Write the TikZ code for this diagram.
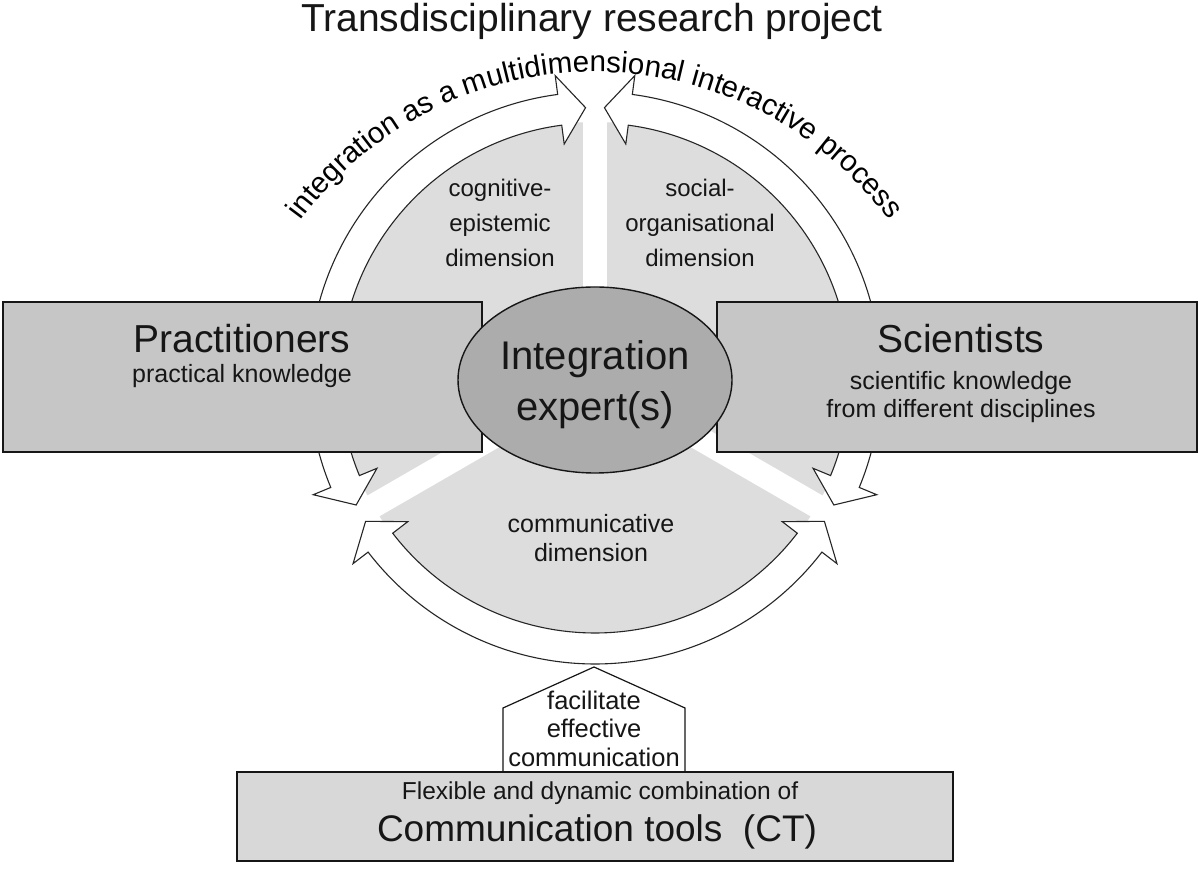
\documentclass[tikz,border=0pt]{standalone}
\usepackage{fontspec}
\setmainfont{Liberation Sans}
\usetikzlibrary{shapes.geometric,decorations.text}
\definecolor{sectgray}{RGB}{221,221,221}
\definecolor{boxgray}{RGB}{198,198,198}
\definecolor{ellgray}{RGB}{172,172,172}
\definecolor{ctgray}{RGB}{216,216,216}
\definecolor{ink}{RGB}{22,22,22}
\newcommand{\fsz}[1]{\fontsize{#1}{#1}\selectfont}
\begin{document}
\begin{tikzpicture}[x=1pt,y=1pt,
  box/.style={draw=ink, line width=1.4pt, fill=boxgray, inner sep=0pt},
  arrowshape/.style={draw=black!85, line width=1.1pt, fill=white, line join=miter},
  lbl/.style={anchor=base, text=ink, inner sep=0pt},
]
\useasboundingbox (0,0) rectangle (1200,870);
\fill[white] (0,0) rectangle (1200,870);
\coordinate (C) at (595,492);
% gray sectors
\fill[sectgray] (C) circle[radius=256];
\foreach \a in {90,210,330} \draw[white, line width=24pt] (C) -- ++(\a:262);
% curved double-headed arrows
\begin{scope}[shift={(595,492)}]
\foreach \ga/\gb in {90/210, -30/90, 210/330} {
  \pgfmathsetmacro\ta{\ga+2}
  \pgfmathsetmacro\ba{\ga+7.5}
  \pgfmathsetmacro\bb{\gb-7.5}
  \pgfmathsetmacro\tb{\gb-2}
  \draw[arrowshape] (\ta:270.5) -- (\ba:305) -- (\ba:286)
     arc[start angle=\ba, end angle=\bb, radius=286]
     -- (\bb:305) -- (\tb:270.5) -- (\bb:236) -- (\bb:255)
     arc[start angle=\bb, end angle=\ba, radius=255]
     -- (\ba:236) -- cycle;
}
\end{scope}
% boxes
\node[box, minimum width=479pt, minimum height=150pt] (prac) at (242.5,493) {};
\node[box, minimum width=480pt, minimum height=150pt] (sci) at (957,493) {};
\node[ellipse, draw=ink, line width=1.4pt, fill=ellgray, minimum width=274pt, minimum height=186pt, inner sep=0pt] (ie) at (595,490) {};
% pentagon
\draw[ink, line width=1.2pt, fill=white] (503,98) -- (503,162) -- (594,203) -- (685,162) -- (685,98);
\node[box, fill=ctgray, minimum width=716pt, minimum height=89pt] (ct) at (595,53.5) {};
% title
\node[lbl, font=\fsz{39}] (title) at (592,838) {Transdisciplinary research project};
% curved text
\path[decorate, decoration={text along path, text align=center,
  text={|\fsz{29.5}|integration as a multidimensional interactive process}}]
  (595,433) ++(150:365) arc[start angle=150, end angle=30, radius=365];
% box texts
\node[lbl, font=\fsz{39}] (pt1) at (242,517) {Practitioners};
\node[lbl, font=\fsz{25}] (pt2) at (242,487) {practical knowledge};
\node[lbl, font=\fsz{39}] (st1) at (961,517) {Scientists};
\node[lbl, font=\fsz{25}] (st2) at (961,480) {scientific knowledge};
\node[lbl, font=\fsz{25}] (st3) at (961,452) {from different disciplines};
\node[lbl, font=\fsz{40}] (ie1) at (595,500) {Integration};
\node[lbl, font=\fsz{40}] (ie2) at (595,449) {expert(s)};
% sector texts
\node[lbl, font=\fsz{24}] (c1) at (500,673) {cognitive-};
\node[lbl, font=\fsz{24}] (c2) at (500,638) {epistemic};
\node[lbl, font=\fsz{24}] (c3) at (500,603) {dimension};
\node[lbl, font=\fsz{24}] (s1) at (700,673) {social-};
\node[lbl, font=\fsz{24}] (s2) at (700,638) {organisational};
\node[lbl, font=\fsz{24}] (s3) at (700,603) {dimension};
\node[lbl, font=\fsz{25}] (m1) at (591,337) {communicative};
\node[lbl, font=\fsz{25}] (m2) at (591,308) {dimension};
% pentagon texts
\node[lbl, font=\fsz{25.5}] (f1) at (594,160) {facilitate};
\node[lbl, font=\fsz{25.5}] (f2) at (594,132) {effective};
\node[lbl, font=\fsz{25.5}] (f3) at (594,103) {communication};
% bottom box texts
\node[lbl, font=\fsz{24.5}] (b1) at (600,70) {Flexible and dynamic combination of};
\node[lbl, font=\fsz{37}] (b2) at (597,28) {Communication tools~~(CT)};
\end{tikzpicture}
\end{document}
